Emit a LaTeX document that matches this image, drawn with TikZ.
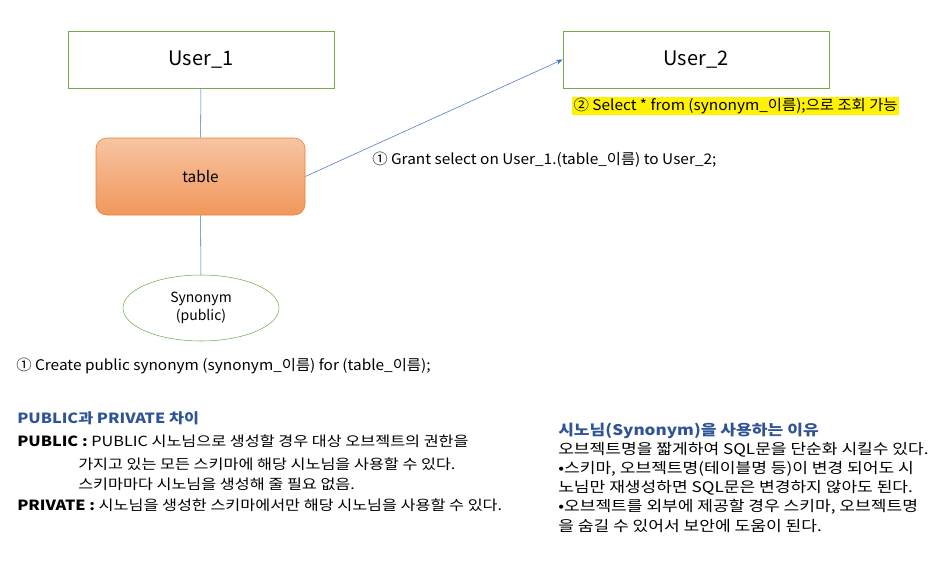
\documentclass[tikz,border=0pt]{standalone}
\usepackage{fontspec}
\setmainfont{Noto Sans CJK KR}
\newfontfamily\widefont[FakeStretch=1.16]{Noto Sans CJK KR}
\newfontfamily\widerfont[FakeStretch=1.165]{Noto Sans CJK KR}
\newfontfamily\midfont[FakeStretch=1.05]{Noto Sans CJK KR}
\usetikzlibrary{arrows.meta, shapes.geometric}
\definecolor{boxgreen}{RGB}{112,173,71}
\definecolor{tabline}{RGB}{237,125,49}
\definecolor{headblue}{RGB}{47,84,150}
\definecolor{arrblue}{RGB}{68,114,196}
\tikzset{
  userbox/.style={draw=boxgreen, minimum width=266*0.75pt, minimum height=57*0.75pt, font=\fontsize{15}{18}\selectfont},
  txt/.style={anchor=west, inner sep=0pt, font=\midfont\fontsize{11}{13}\selectfont},
  small/.style={anchor=west, inner sep=0pt, font=\widefont\fontsize{10.5}{12}\selectfont},
  reason/.style={anchor=west, inner sep=0pt, font=\widerfont\fontsize{11}{13}\selectfont}
}
\begin{document}
\begin{tikzpicture}[x=0.75pt, y=-0.75pt]
  \useasboundingbox (0,0) rectangle (929,564);
  \node[userbox] at (201,59.5) (u1) {User\_1};
  \node[userbox] at (696,59.5) (u2) {User\_2};
  \node[draw=tabline, rounded corners=8pt, top color=tabline!45, bottom color=tabline!80,
        minimum width=209*0.75pt, minimum height=77*0.75pt, font=\fontsize{11.5}{14}\selectfont] at (200.5,176.5) (tbl) {table};
  \node[ellipse, draw=boxgreen, fill=white, minimum width=156*0.75pt, minimum height=66*0.75pt, align=center,
        font=\fontsize{10.5}{13}\selectfont] at (201,308) (syn) {Synonym\\(public)};

  \draw[arrblue] (u1) -- (tbl);
  \draw[arrblue] (tbl) -- (syn);
  \draw[arrblue, -{Stealth[length=5pt]}] (tbl.east) -- (u2.west);

  \node[txt] at (372,160) (grant) {① Grant select on User\_1.(table\_이름) to User\_2;};
  \node[txt, fill=yellow, inner sep=1pt] at (572,106) (sel) {② Select * from (synonym\_이름);으로 조회 가능};
  \node[txt] at (16,366) (crt) {① Create public synonym (synonym\_이름) for (table\_이름);};

  \node[small, text=headblue, font=\widefont\fontsize{10.5}{12}\bfseries\selectfont] at (17,418) (h1) {PUBLIC과 PRIVATE 차이};
  \node[small] at (17,441) (p1) {\textbf{PUBLIC :} PUBLIC 시노님으로 생성할 경우 대상 오브젝트의 권한을};
  \node[small] at (78,464) (p2) {가지고 있는 모든 스키마에 해당 시노님을 사용할 수 있다.};
  \node[small] at (78,484) (p3) {스키마마다 시노님을 생성해 줄 필요 없음.};
  \node[small] at (17,505) (p4) {\textbf{PRIVATE :} 시노님을 생성한 스키마에서만 해당 시노님을 사용할 수 있다.};

  \node[reason, text=headblue, font=\widerfont\fontsize{11}{13}\bfseries\selectfont] at (558,431) (h2) {시노님(Synonym)을 사용하는 이유};
  \node[reason] at (558,450) (r1) {오브젝트명을 짧게하여 SQL문을 단순화 시킬수 있다.};
  \node[reason] at (558,469) (r2) {•스키마, 오브젝트명(테이블명 등)이 변경 되어도 시};
  \node[reason] at (558,488) (r3) {노님만 재생성하면 SQL문은 변경하지 않아도 된다.};
  \node[reason] at (558,507) (r4) {•오브젝트를 외부에 제공할 경우 스키마, 오브젝트명};
  \node[reason] at (558,526) (r5) {을 숨길 수 있어서 보안에 도움이 된다.};
\end{tikzpicture}
\end{document}
